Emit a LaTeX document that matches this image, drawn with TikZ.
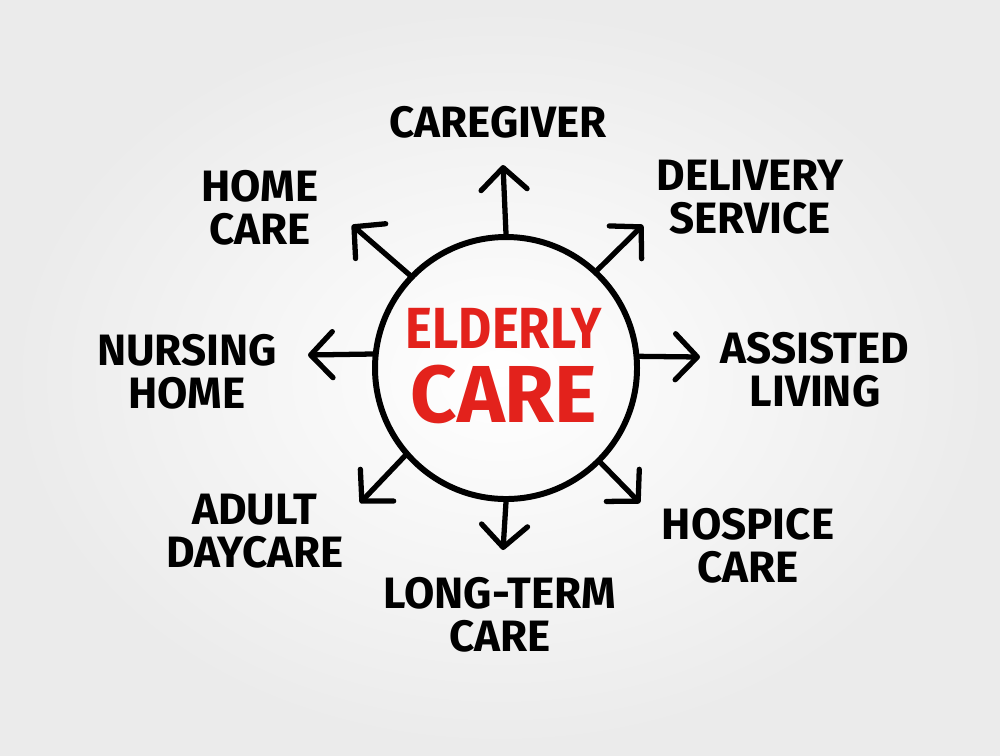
\documentclass[tikz,border=0pt]{standalone}
\usepackage{fontspec}
\setmainfont{Fira Sans}
\newfontfamily\narrowfont[FakeStretch=0.88]{Fira Sans}
\usetikzlibrary{arrows.meta}
\definecolor{markerred}{HTML}{E3221C}

\begin{document}
\begin{tikzpicture}
      \tikzset{
        every node/.style={align=center,font=\bfseries\fontsize{12.5}{12.2}\selectfont},
        hub/.style={circle,draw,line width=1.7pt,minimum size=2.62cm,inner sep=0pt},
        spoke/.style={line width=1.5pt,line cap=round,
          -{Straight Barb[round,length=2.2mm,width=4.6mm]}}
      }

      % background
      \shade[inner color=white,outer color=black!8] (0,0) rectangle (10,7.55);

      \node[hub] (c) at (5.06,3.87) {};
      \node[text=markerred] (title) at (5.04,3.89)
        {{\narrowfont\fontsize{16.5}{19}\selectfont ELDERLY}\\[3.5pt]{\fontsize{23}{19}\selectfont CARE}};

      \node (cg) at (4.98,6.33) {CAREGIVER};
      \node (ds) at (7.50,5.58) {DELIVERY\\SERVICE};
      \node (al) at (8.15,3.85) {ASSISTED\\LIVING};
      \node (hc) at (7.48,2.09) {HOSPICE\\CARE};
      \node (lt) at (5.00,1.40) {LONG-TERM\\CARE};
      \node (ad) at (2.55,2.24) {ADULT\\DAYCARE};
      \node (nh) at (1.87,3.83) {NURSING\\HOME};
      \node (hm) at (2.60,5.47) {HOME\\CARE};

      \coordinate (t1) at (5.03,5.90);
      \coordinate (t2) at (6.43,5.30);
      \coordinate (t3) at (7.00,3.98);
      \coordinate (t4) at (6.40,2.52);
      \coordinate (t5) at (5.03,2.05);
      \coordinate (t6) at (3.60,2.52);
      \coordinate (t7) at (3.08,4.00);
      \coordinate (t8) at (3.52,5.30);

      \draw[spoke] (c.90) -- (t1);
      \draw[spoke] (c.47) -- (t2);
      \draw[spoke] (c.5) -- (t3);
      \draw[spoke] (c.-45) -- (t4);
      \draw[spoke] (c.-90) -- (t5);
      \draw[spoke] (c.221) -- (t6);
      \draw[spoke] (c.174) -- (t7);
      \draw[spoke] (c.136) -- (t8);
\end{tikzpicture}
\end{document}
